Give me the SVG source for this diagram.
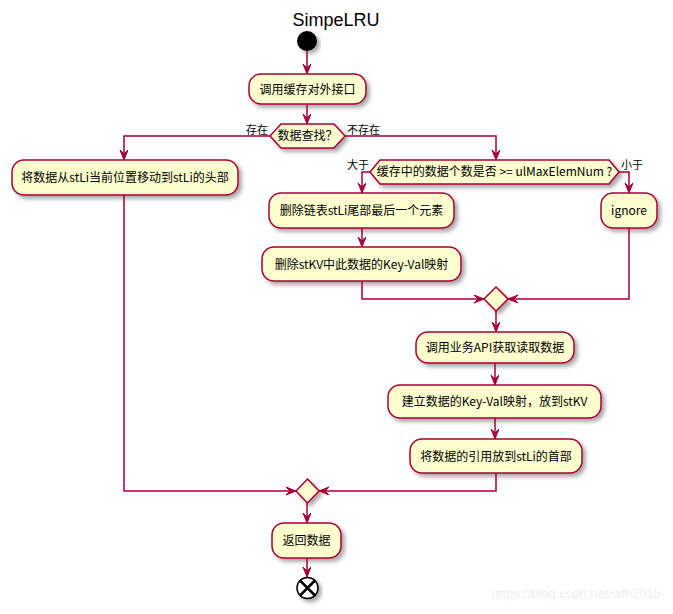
<svg xmlns="http://www.w3.org/2000/svg" width="673" height="614" viewBox="0 0 673 614">
<defs>
<filter id="sh" x="-20%" y="-20%" width="140%" height="160%">
<feDropShadow dx="3" dy="3" stdDeviation="2" flood-color="#000" flood-opacity="0.35"/>
</filter>
<marker id="ah" markerUnits="userSpaceOnUse" markerWidth="12" markerHeight="10" refX="10" refY="4" orient="auto">
<path d="M0,0 L10,4 L0,8 L4,4 Z" fill="#A80036" stroke="#A80036" stroke-width="1"/>
</marker>
<style>
.box{fill:#FEFECE;stroke:#A80036;stroke-width:1.5;filter:url(#sh)}
.t{font-family:"Noto Sans CJK SC","Liberation Sans",sans-serif;font-size:12px;fill:#000;text-anchor:middle}
.lbl{font-family:"Noto Sans CJK SC","Liberation Sans",sans-serif;font-size:11px;fill:#000}
.c{fill:none;stroke:#A80036;stroke-width:1.5;marker-end:url(#ah)}
</style>
</defs>
<rect width="673" height="614" fill="#fff"/>
<text x="336" y="26" font-family="'Liberation Sans',sans-serif" font-size="18" text-anchor="middle">SimpeLRU</text>

<g id="start"><circle cx="307" cy="41" r="10" fill="#000" filter="url(#sh)"/></g>

<g id="n1"><rect class="box" x="249" y="74" width="117" height="30" rx="12"/><text class="t" x="307.5" y="93.5">调用缓存对外接口</text></g>

<g id="d1"><polygon class="box" points="270,136 281,124 334,124 345,136 334,148 281,148"/><text class="t" x="307.5" y="140">数据查找？</text></g>

<g id="n2"><rect class="box" x="12" y="160" width="226" height="35" rx="12"/><text class="t" x="125" y="182">将数据从stLi当前位置移动到stLi的头部</text></g>

<g id="d2"><polygon class="box" points="370,172 380,160 609,160 619,172 609,184 380,184"/><text class="t" x="494.5" y="176">缓存中的数据个数是否 &gt;= ulMaxElemNum ?</text></g>

<g id="n3"><rect class="box" x="269" y="193" width="185" height="35" rx="12"/><text class="t" x="361.5" y="215">删除链表stLi尾部最后一个元素</text></g>

<g id="n_ignore"><rect class="box" x="601" y="193" width="56" height="35" rx="12"/><text class="t" x="629" y="215">ignore</text></g>

<g id="n4"><rect class="box" x="262" y="247" width="199" height="34" rx="12"/><text class="t" x="361.5" y="268.5">删除stKV中此数据的Key-Val映射</text></g>

<g id="m1"><polygon class="box" points="496,287 508,299 496,311 484,299"/></g>

<g id="n5"><rect class="box" x="416" y="332" width="158" height="31" rx="12"/><text class="t" x="495" y="352">调用业务API获取读取数据</text></g>

<g id="n6"><rect class="box" x="388" y="385" width="213" height="33" rx="12"/><text class="t" x="494.5" y="405.5">建立数据的Key-Val映射，放到stKV</text></g>

<g id="n7"><rect class="box" x="410" y="439" width="172" height="34" rx="12"/><text class="t" x="496" y="460.5">将数据的引用放到stLi的首部</text></g>

<g id="m2"><polygon class="box" points="307.5,479 319,491 307.5,503 296,491"/></g>

<g id="n8"><rect class="box" x="272" y="523" width="69" height="35" rx="12"/><text class="t" x="306.5" y="545">返回数据</text></g>

<g id="end"><g filter="url(#sh)"><circle cx="307.5" cy="588" r="10.5" fill="#fff" stroke="#000" stroke-width="1.5"/><path d="M300,580.5 L315,595.5 M315,580.5 L300,595.5" stroke="#000" stroke-width="2.5"/></g></g>

<g id="connectors">
<path class="c" d="M307,51 V74"/>
<path class="c" d="M307,104 V124"/>
<path class="c" d="M270,136 H124 V160"/>
<path class="c" d="M345,136 H496 V160"/>
<path class="c" d="M370,172 H362 V193"/>
<path class="c" d="M619,172 H629 V193"/>
<path class="c" d="M362,228 V247"/>
<path class="c" d="M362,281 V299 H484"/>
<path class="c" d="M629,228 V299 H508"/>
<path class="c" d="M496,311 V332"/>
<path class="c" d="M495,363 V385"/>
<path class="c" d="M495,418 V439"/>
<path class="c" d="M496,473 V491 H319"/>
<path class="c" d="M124,195 V491 H296"/>
<path class="c" d="M307,503 V523"/>
<path class="c" d="M307,558 V577"/>
<text class="lbl" x="268" y="134" text-anchor="end">存在</text>
<text class="lbl" x="347" y="134">不存在</text>
<text class="lbl" x="369" y="169" text-anchor="end">大于</text>
<text class="lbl" x="621" y="169">小于</text>
</g>
<text x="661" y="598" font-family="'Liberation Sans',sans-serif" font-size="13" fill="#eeeeee" text-anchor="end">https://blog.csdn.net/wfh2015</text>
</svg>
